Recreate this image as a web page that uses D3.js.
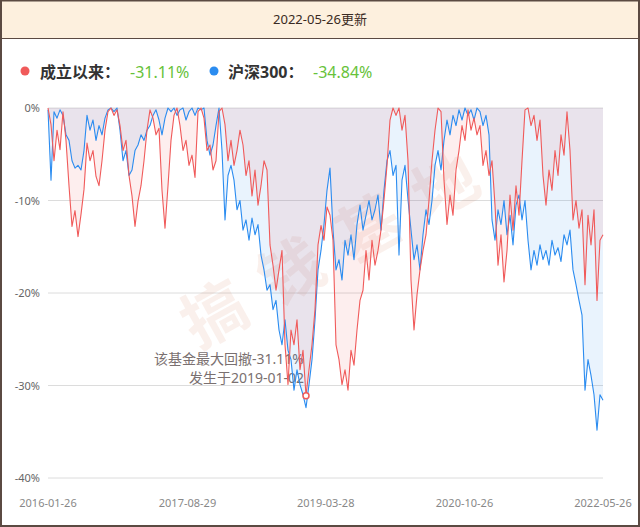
<!DOCTYPE html>
<html><head><meta charset="utf-8">
<script src="https://cdn.jsdelivr.net/npm/d3@7"></script>
<style>
html,body{margin:0;padding:0;background:#fff;}
svg{display:block;font-family:"Noto Sans","Noto Sans CJK SC",sans-serif;}
</style></head>
<body><svg id="c" width="640" height="527"></svg>
<script>
// ---- data (drawdown %, sampled evenly over time) ----
const startDate = "2016-01-26", endDate = "2022-05-26";
const tickLabels = ["2016-01-26","2017-08-29","2019-03-28","2020-10-26","2022-05-26"];
const yTicks = [0,-10,-20,-30,-40];
const fundName = "成立以来：", fundMax = "-31.11%";
const idxName = "沪深300：", idxMax = "-34.84%";
const fundMaxDate = "2019-01-02";
const fund = [0.0,-1.8,-5.7,-2.4,-4.5,-0.4,-3.5,-8.4,-12.8,-11.1,-13.9,-11.5,-8.8,-3.8,-5.7,-4.6,-7.4,-8.4,-5.7,-2.4,-0.4,0.0,-0.8,-0.2,-1.9,-4.6,-3.5,-7.3,-9.5,-12.8,-10.1,-8.4,-5.7,-2.4,-0.2,-1.1,-2.9,-2.2,-8.9,-13.0,-8.4,-3.5,-0.8,0.0,-1.9,-4.6,-3.5,-6.2,-5.1,-7.5,-0.4,0.0,-1.1,-4.6,-4.0,-6.7,-5.7,-0.4,0.0,-1.8,-5.7,-3.5,-6.2,-4.6,-2.4,-4.0,-7.3,-5.7,-9.5,-6.7,-10.5,-8.4,-5.7,-6.7,-14.8,-17.0,-19.7,-17.5,-15.4,-25.6,-29.9,-24.0,-25.6,-22.9,-28.3,-26.2,-31.11,-28.3,-25.6,-21.8,-14.8,-12.7,-14.3,-10.7,-11.6,-14.3,-25.6,-27.2,-29.9,-28.3,-30.5,-26.2,-27.8,-24.0,-20.8,-19.7,-15.4,-18.6,-14.3,-17.0,-15.4,-13.2,-9.9,-6.2,-1.3,0.0,-0.8,0.0,-2.4,-0.8,-5.7,-18.6,-24.0,-20.2,-17.5,-15.4,-13.7,-10.0,-5.7,-2.4,0.0,-0.4,-7.8,-12.6,-9.4,-11.6,-6.7,-4.6,-1.9,-3.5,-0.2,-2.4,-1.1,-2.9,-1.9,-6.2,-4.6,-7.3,-5.7,-10.5,-17.0,-13.7,-18.8,-15.4,-9.4,-13.2,-8.4,-11.6,-5.7,-0.2,0.0,-1.9,-0.8,-3.5,-1.3,-7.3,-10.5,-6.7,-8.9,-4.6,-7.3,-2.9,-5.1,-0.4,-4.6,-12.1,-10.0,-13.0,-11.0,-19.1,-11.6,-14.8,-11.0,-20.8,-14.3,-13.7];
const hs300 = [-0.2,-7.8,-0.4,-1.1,-0.2,-0.8,-2.9,-3.5,-5.7,-6.5,-6.2,-6.7,-4.6,-0.8,-2.4,-1.3,-3.5,-1.9,-2.9,-1.1,-0.2,0.0,-0.4,0.0,-2.4,-5.7,-4.6,-7.3,-6.7,-4.6,-4.0,-2.9,-3.5,-2.4,-1.9,-0.8,-0.2,-1.3,-2.9,-1.1,0.0,-0.4,0.0,-0.8,-0.2,0.0,-1.3,-0.4,0.0,-0.8,0.0,-0.2,0.0,-3.5,-5.1,-4.0,-1.9,0.0,-4.6,-12.1,-7.3,-6.2,-7.8,-11.0,-10.0,-13.2,-12.1,-14.3,-11.9,-13.7,-12.6,-15.9,-17.5,-19.7,-19.1,-21.8,-20.8,-24.0,-25.6,-22.9,-26.2,-27.2,-30.5,-28.3,-29.9,-31.0,-32.4,-29.9,-27.2,-22.9,-17.5,-15.4,-12.6,-8.9,-6.5,-13.2,-17.5,-16.4,-18.6,-14.3,-15.9,-13.7,-16.4,-12.6,-10.5,-13.2,-11.6,-10.0,-12.1,-11.0,-9.4,-13.2,-8.9,-5.7,-4.6,-7.3,-6.2,-15.9,-7.8,-6.2,-9.9,-13.2,-16.4,-14.8,-17.5,-13.7,-11.0,-12.6,-10.0,-6.2,-4.6,-6.7,-3.5,-1.3,-2.9,-0.8,-1.9,-0.2,-1.3,0.0,-0.8,-0.2,-1.3,0.0,-0.4,-1.9,-0.8,-2.9,-12.1,-14.3,-11.0,-12.6,-10.0,-13.7,-11.6,-14.8,-10.5,-9.4,-12.1,-10.0,-14.3,-17.5,-15.4,-17.0,-14.8,-16.4,-15.4,-17.0,-14.3,-15.9,-15.1,-16.6,-13.7,-14.8,-13.2,-17.5,-19.1,-20.8,-22.4,-30.5,-27.2,-28.9,-31.0,-34.84,-31.0,-31.6];

const W = 640, H = 527;
const svg = d3.select("#c");
const left = 48, right = 603, top0 = 108, bot = 478;

// frame + header
svg.append("rect").attr("x",0).attr("y",0).attr("width",W).attr("height",38).attr("fill","#fdf0de");
svg.append("line").attr("x1",0).attr("x2",W).attr("y1",38.5).attr("y2",38.5).attr("stroke","#5b4a42").attr("stroke-width",1.2);
svg.append("rect").attr("x",1).attr("y",0.5).attr("width",W-2).attr("height",H-1.5)
  .attr("fill","none").attr("stroke","#5b4a42").attr("stroke-width",2);
svg.append("text").attr("x",W/2).attr("y",24).attr("text-anchor","middle")
  .attr("font-size",13).attr("fill","#3a2a22").text("2022-05-26更新");

// legend
const leg = svg.append("g").attr("font-size",16);
leg.append("circle").attr("cx",25).attr("cy",71).attr("r",4.5).attr("fill","#f05a5a");
leg.append("text").attr("x",40).attr("y",78).attr("font-weight","bold").attr("fill","#333").text(fundName);
leg.append("text").attr("x",130).attr("y",78).attr("fill","#67c23a").text(fundMax);
leg.append("circle").attr("cx",214).attr("cy",71).attr("r",4.5).attr("fill","#2b8cf0");
leg.append("text").attr("x",228).attr("y",78).attr("font-weight","bold").attr("fill","#333").text(idxName);
leg.append("text").attr("x",313).attr("y",78).attr("fill","#67c23a").text(idxMax);

// scales
const parse = d3.timeParse("%Y-%m-%d");
const t0 = parse(startDate), t1 = parse(endDate);
const x = d3.scaleTime().domain([t0,t1]).range([left,right]);
const y = d3.scaleLinear().domain([-40,0]).range([bot,top0]);
const n = fund.length;
const dateAt = i => new Date(+t0 + (t1 - t0) * i / (n - 1));

// grid + y labels
yTicks.forEach(v => {
  svg.append("line").attr("x1",left).attr("x2",right).attr("y1",y(v)).attr("y2",y(v))
    .attr("stroke","#dcdcdc").attr("stroke-width",1);
  svg.append("text").attr("x",40).attr("y",y(v)+4).attr("text-anchor","end")
    .attr("font-size",11).attr("fill","#666").text(v + "%");
});
// x labels
tickLabels.forEach(s => {
  svg.append("text").attr("x",x(parse(s))).attr("y",507).attr("text-anchor","middle")
    .attr("font-size",11).attr("fill","#888").text(s);
});

// watermark
svg.append("text").attr("transform","translate(338,240) rotate(-29)")
  .attr("text-anchor","middle").attr("dominant-baseline","central")
  .attr("font-size",64).attr("letter-spacing",24).attr("font-weight","bold")
  .attr("font-family","'Noto Sans CJK SC',sans-serif")
  .attr("fill","rgba(215,140,110,0.13)").text("搞钱基地");

// annotation text (under lines)
const iMin = d3.minIndex(fund);
const mx = x(dateAt(iMin)), my = y(fund[iMin]);
svg.append("text").attr("x",mx-2).attr("y",364).attr("text-anchor","end")
  .attr("font-size",14).attr("fill","#7a7070").text("该基金最大回撤" + fundMax);
svg.append("text").attr("x",mx-2).attr("y",383).attr("text-anchor","end")
  .attr("font-size",14).attr("fill","#7a7070").text("发生于" + fundMaxDate);

// areas + lines
const area = d3.area().x((d,i)=>x(dateAt(i))).y0(y(0)).y1(d=>y(d));
const line = d3.line().x((d,i)=>x(dateAt(i))).y(d=>y(d));
svg.append("path").datum(hs300).attr("d",area).attr("fill","rgba(43,140,240,0.1)");
svg.append("path").datum(fund).attr("d",area).attr("fill","rgba(240,90,90,0.1)");
svg.append("path").datum(hs300).attr("d",line).attr("fill","none").attr("stroke","#2b8cf0").attr("stroke-width",1.1).attr("stroke-linejoin","round");
svg.append("path").datum(fund).attr("d",line).attr("fill","none").attr("stroke","#f05a5a").attr("stroke-width",1.1).attr("stroke-linejoin","round");

// min marker
svg.append("circle").attr("cx",mx).attr("cy",my).attr("r",3).attr("fill","#fff")
  .attr("stroke","#f05a5a").attr("stroke-width",1.5);
</script></body></html>
